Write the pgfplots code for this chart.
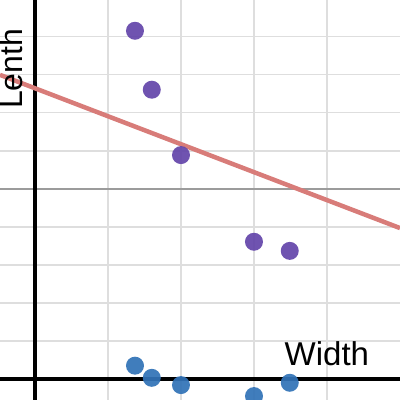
\documentclass[border=0pt]{standalone}
\usepackage{pgfplots}
\pgfplotsset{compat=1.18}
\usepackage{fontspec}
\setmainfont{Liberation Sans}

\definecolor{fitred}{RGB}{216,124,121}
\definecolor{ptpurple}{RGB}{100,70,170}
\definecolor{ptblue}{RGB}{50,115,183}
\definecolor{minorgrid}{RGB}{222,222,222}
\definecolor{majorgrid}{RGB}{155,155,155}

\begin{document}
\begin{tikzpicture}
\useasboundingbox (0,0) rectangle (400bp,400bp);
\clip (0,0) rectangle (400bp,400bp);
\begin{axis}[
    width=400bp, height=400bp,
    scale only axis,
    xmin=-0.479, xmax=5.0,
    ymin=-0.553, ymax=9.97,
    axis lines=middle,
    axis line style={draw=none},
    xtick={1,2,3,4},
    ytick={1,2,3,4,5,6,7,8,9},
    xticklabels={}, yticklabels={},
    major tick length=0pt,
    grid=major,
    grid style={minorgrid, line width=1.2bp},
    extra y ticks={5},
    extra y tick labels={},
    extra y tick style={grid style={majorgrid, line width=1.3bp}},
    clip marker paths=true,
    ]
% axes through the origin
\addplot[black, line width=3.4bp] coordinates {(-0.479,0) (5.0,0)};
\addplot[black, line width=3.4bp] coordinates {(0,-0.553) (0,9.97)};
% fitted line
\addplot[fitred, line width=4.5bp] coordinates {(-0.479,8.0) (5.0,3.97)};
% length points
\addplot[ptpurple, only marks, mark=*, mark size=9bp,
    mark options={draw opacity=0, fill=ptpurple, fill opacity=0.93}]
    coordinates {(1.37,9.16) (1.60,7.61) (2.0,5.89) (3.0,3.61) (3.49,3.37)};
% width points
\addplot[ptblue, only marks, mark=*, mark size=9bp,
    mark options={draw opacity=0, fill=ptblue, fill opacity=0.93}]
    coordinates {(1.37,0.35) (1.60,0.03) (2.0,-0.16) (3.0,-0.45) (3.49,-0.10)};
\node[rotate=90, anchor=base west, inner sep=0pt, font=\fontsize{32bp}{38bp}\selectfont]
    at (axis description cs:0.056,0.7275) {Lenth};
\node[anchor=base west, inner sep=0pt, font=\fontsize{33bp}{39bp}\selectfont]
    at (axis description cs:0.7112,0.0875) {Width};
\end{axis}
\end{tikzpicture}
\end{document}
